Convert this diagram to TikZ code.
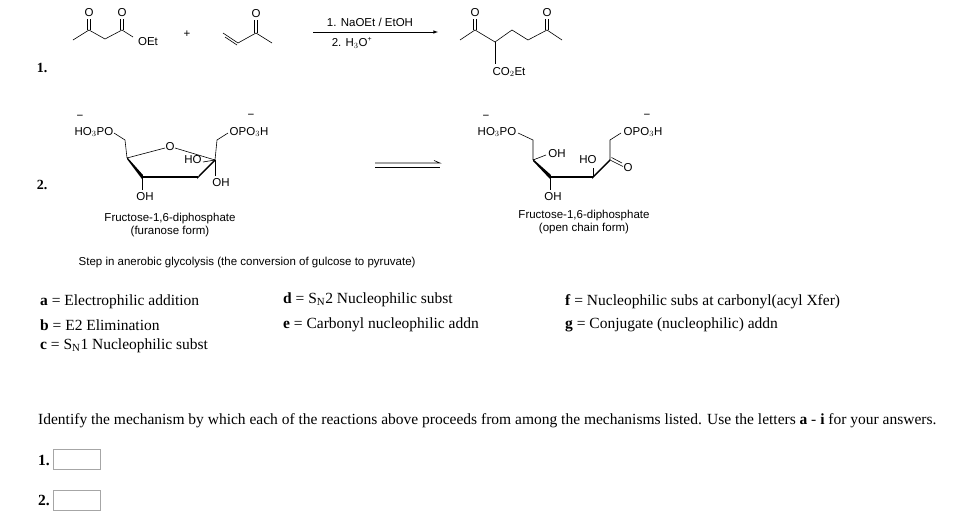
\documentclass[tikz,border=0pt]{standalone}
\usepackage{fontspec}
\setmainfont{Liberation Serif}
\setsansfont{Liberation Sans}
\begin{document}
\begin{tikzpicture}[x=1pt,y=-1pt,
  bd/.style={line width=0.6pt},
  lab/.style={font=\sffamily\fontsize{11.5}{13}\selectfont,inner sep=0.5pt},
  txt/.style={font=\fontsize{15.5}{17}\selectfont,anchor=west,inner sep=0pt},
  wedge/.style={fill=black}]
\useasboundingbox (0,0) rectangle (960,531);
% ---------- Reaction 1 ----------
\node[font=\bfseries\fontsize{14}{15}\selectfont] (n1) at (42,68) {1.};
\draw[bd] (73,40)--(89,30)--(105,39)--(122,30)--(133,37);
\draw[bd] (87.5,30)--(87.5,19) (90.5,30)--(90.5,19);
\draw[bd] (120.5,30)--(120.5,19) (123.5,30)--(123.5,19);
\node[lab] (o1) at (89,13) {O};
\node[lab] (o2) at (122,13) {O};
\node[lab] (oet) at (148,42) {OEt};
\node[lab] (plus) at (187,34) {+};
\draw[bd] (223,33)--(238,43)--(256,33)--(272,43);
\draw[bd] (225,37)--(237,45);
\draw[bd] (254.5,33)--(254.5,20) (257.5,33)--(257.5,20);
\node[lab] (o3) at (256,14) {O};
\coordinate (a1s) at (313,32); \coordinate (a1e) at (438,32);
\draw[bd,-latex] (a1s)--(a1e);
\node[lab] (r1) at (370,22) {1. NaOEt / EtOH};
\node[lab] (r2) at (352,43) {2. H$_3$O$^{\raisebox{1pt}{\scriptsize +}}$};
\draw[bd] (460,40)--(475,30)--(495,42)--(512,30)--(528,40)--(547,30)--(562,40);
\draw[bd] (473.5,30)--(473.5,19) (476.5,30)--(476.5,19);
\draw[bd] (545.5,30)--(545.5,19) (548.5,30)--(548.5,19);
\draw[bd] (495,42)--(495,64);
\node[lab] (o4) at (475,13) {O};
\node[lab] (o5) at (547,13) {O};
\node[lab] (co2et) at (509,72) {CO$_2$Et};
% ---------- Reaction 2 ----------
\node[font=\bfseries\fontsize{14}{15}\selectfont] (n2) at (42,185) {2.};
\node[lab] (p1) at (94,132) {HO$_3$PO};
\node[lab] (m1) at (80,117) {\textminus};
\draw[bd] (114,133)--(125,140)--(127,158);
\draw[bd] (127,158)--(165,148);
\node[lab] (oring) at (170,147) {O};
\draw[bd] (175,148)--(215,160);
\fill (127,157)--(127,159)--(142,179)--(143,175)--cycle;
\draw[line width=2.5pt] (142,177)--(198,177);
\fill (197,179)--(199,175)--(215,159)--(215,161)--cycle;
\draw[bd] (215,160)--(217,140)--(228,133);
\node[lab] (p2) at (249,132) {OPO$_3$H};
\node[lab] (m2) at (251,116) {\textminus};
\draw[bd] (215,160)--(203,162);
\node[lab] (ho1) at (193,160) {HO};
\draw[bd] (215,160)--(215,176);
\node[lab] (oh1) at (221,183) {OH};
\draw[bd] (142,177)--(142,190);
\node[lab] (oh2) at (145,197) {OH};
\node[lab,align=center] (cap1) at (170,225) {Fructose-1,6-diphosphate\\(furanose form)};
\draw[bd] (375,163)--(440,163)--(434,160.5);
\draw[bd] (375,167)--(440,167);
\node[lab] (p3) at (497,132) {HO$_3$PO};
\node[lab] (m3) at (486,117) {\textminus};
\draw[bd] (518,133)--(533,140)--(533,160);
\draw[bd] (533,160)--(546,155);
\node[lab] (oh3) at (557,154) {OH};
\fill (533,159)--(533,161)--(550,179)--(551,175)--cycle;
\draw[line width=2.5pt] (550,177)--(593,177);
\fill (592,179)--(594,175)--(610,159)--(610,161)--cycle;
\draw[bd] (593,177)--(593,168);
\node[lab] (ho2) at (588,160) {HO};
\draw[bd] (610,160)--(623,166.5) (611.5,157.5)--(622,163);
\node[lab] (o6) at (628,168) {O};
\draw[bd] (610,160)--(610,140)--(621,133);
\node[lab] (p4) at (643,132) {OPO$_3$H};
\node[lab] (m4) at (647,116) {\textminus};
\draw[bd] (550,177)--(550,190);
\node[lab] (oh4) at (553,197) {OH};
\node[lab,align=center] (cap2) at (584,222) {Fructose-1,6-diphosphate\\(open chain form)};
\node[lab,anchor=west] (step) at (78,263) {Step in anerobic glycolysis (the conversion of gulcose to pyruvate)};
% ---------- list ----------
\node[txt] (la) at (40,302) {\textbf{a} = Electrophilic addition};
\node[txt] (lb) at (40,325) {\textbf{b} = E2 Elimination};
\node[txt] (lc) at (40,346) {\textbf{c} = S$_{\rm N}$1 Nucleophilic subst};
\node[txt] (ld) at (283,300) {\textbf{d} = S$_{\rm N}$2 Nucleophilic subst};
\node[txt] (le) at (283,325) {\textbf{e} = Carbonyl nucleophilic addn};
\node[txt] (lf) at (565,302) {\textbf{f} = Nucleophilic subs at carbonyl(acyl Xfer)};
\node[txt] (lg) at (565,325) {\textbf{g} = Conjugate (nucleophilic) addn};
\node[txt] (q) at (38,421) {Identify the mechanism by which each of the reactions above proceeds from among the mechanisms listed. Use the letters \textbf{a} - \textbf{i} for your answers.};
\node[txt,font=\bfseries\fontsize{15.5}{17}\selectfont] (q1) at (38,460) {1.};
\draw[gray!70,line width=1pt] (53,449) rectangle (100,469);
\node[txt,font=\bfseries\fontsize{15.5}{17}\selectfont] (q2) at (38,500) {2.};
\draw[gray!70,line width=1pt] (53,490) rectangle (100,510);
\end{tikzpicture}
\end{document}
